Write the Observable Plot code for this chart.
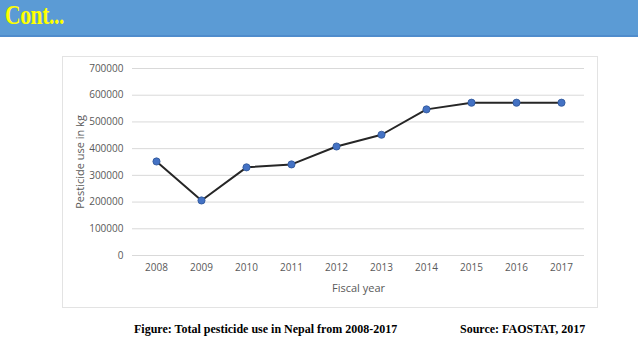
<!DOCTYPE html>
<html><head><meta charset="utf-8">
<script src="https://cdn.jsdelivr.net/npm/d3@7"></script>
<script src="https://cdn.jsdelivr.net/npm/@observablehq/plot@0.6"></script>
<style>
body{margin:0;width:638px;height:359px;background:#fff;position:relative;overflow:hidden;font-family:"Liberation Serif",serif;}
#hdr{position:absolute;left:0;top:0;width:638px;height:35px;background:#5b9bd5;border-bottom:2px solid #4f8ccc;}
#hdr span{position:absolute;left:5px;top:0px;color:#ffff00;font-weight:bold;font-size:27px;font-family:"Liberation Serif",serif;transform:scaleX(0.8);transform-origin:left top;letter-spacing:-0.5px;}
#box{position:absolute;left:62px;top:56px;width:534px;height:250px;border:1px solid #e3e3e3;}
#chart{position:absolute;left:62px;top:56px;}
.cap{position:absolute;top:322px;font-weight:bold;font-size:12px;color:#000;white-space:nowrap;}
</style></head>
<body>
<div id="hdr"><span>Cont...</span></div>
<div id="box"></div>
<div id="chart"></div>
<div class="cap" style="left:134px">Figure: Total pesticide use in Nepal from 2008-2017</div>
<div class="cap" style="left:460px">Source: FAOSTAT, 2017</div>
<script>
const years = ["2008","2009","2010","2011","2012","2013","2014","2015","2016","2017"];
const usage = [352000,206000,330000,341000,408000,452000,547000,572000,572000,572000];
const yTicks = [0,100000,200000,300000,400000,500000,600000,700000];
const data = years.map((y,i)=>({year:y, value:usage[i]}));
const chart = Plot.plot({
  width:535, height:251,
  marginLeft:70, marginRight:13, marginTop:12, marginBottom:52,
  style:{fontFamily:"'Open Sans', sans-serif", fontSize:"10px", color:"#595959", background:"transparent"},
  x:{type:"point", domain:years, padding:0.5, label:"Fiscal year", labelAnchor:"center", labelArrow:"none", tickSize:0, tickPadding:8, labelOffset:36},
  y:{domain:[0,700000], ticks:yTicks, tickFormat:d3.format("d"), label:"Pesticide use in kg", labelAnchor:"center", labelArrow:"none", tickSize:0, tickPadding:9, labelOffset:56},
  marks:[
    Plot.gridY(yTicks,{stroke:"#d9d9d9", strokeOpacity:1, strokeWidth:1}),
    Plot.line(data,{x:"year", y:"value", stroke:"#262626", strokeWidth:2}),
    Plot.dot(data,{x:"year", y:"value", r:3.6, fill:"#4472c4", stroke:"#2f5597", strokeWidth:0.8})
  ]
});
chart.querySelectorAll("g[aria-label='y-axis label'] text, g[aria-label='x-axis label'] text").forEach(t=>t.style.fontSize="11px");
document.getElementById("chart").appendChild(chart);
</script>
</body></html>
